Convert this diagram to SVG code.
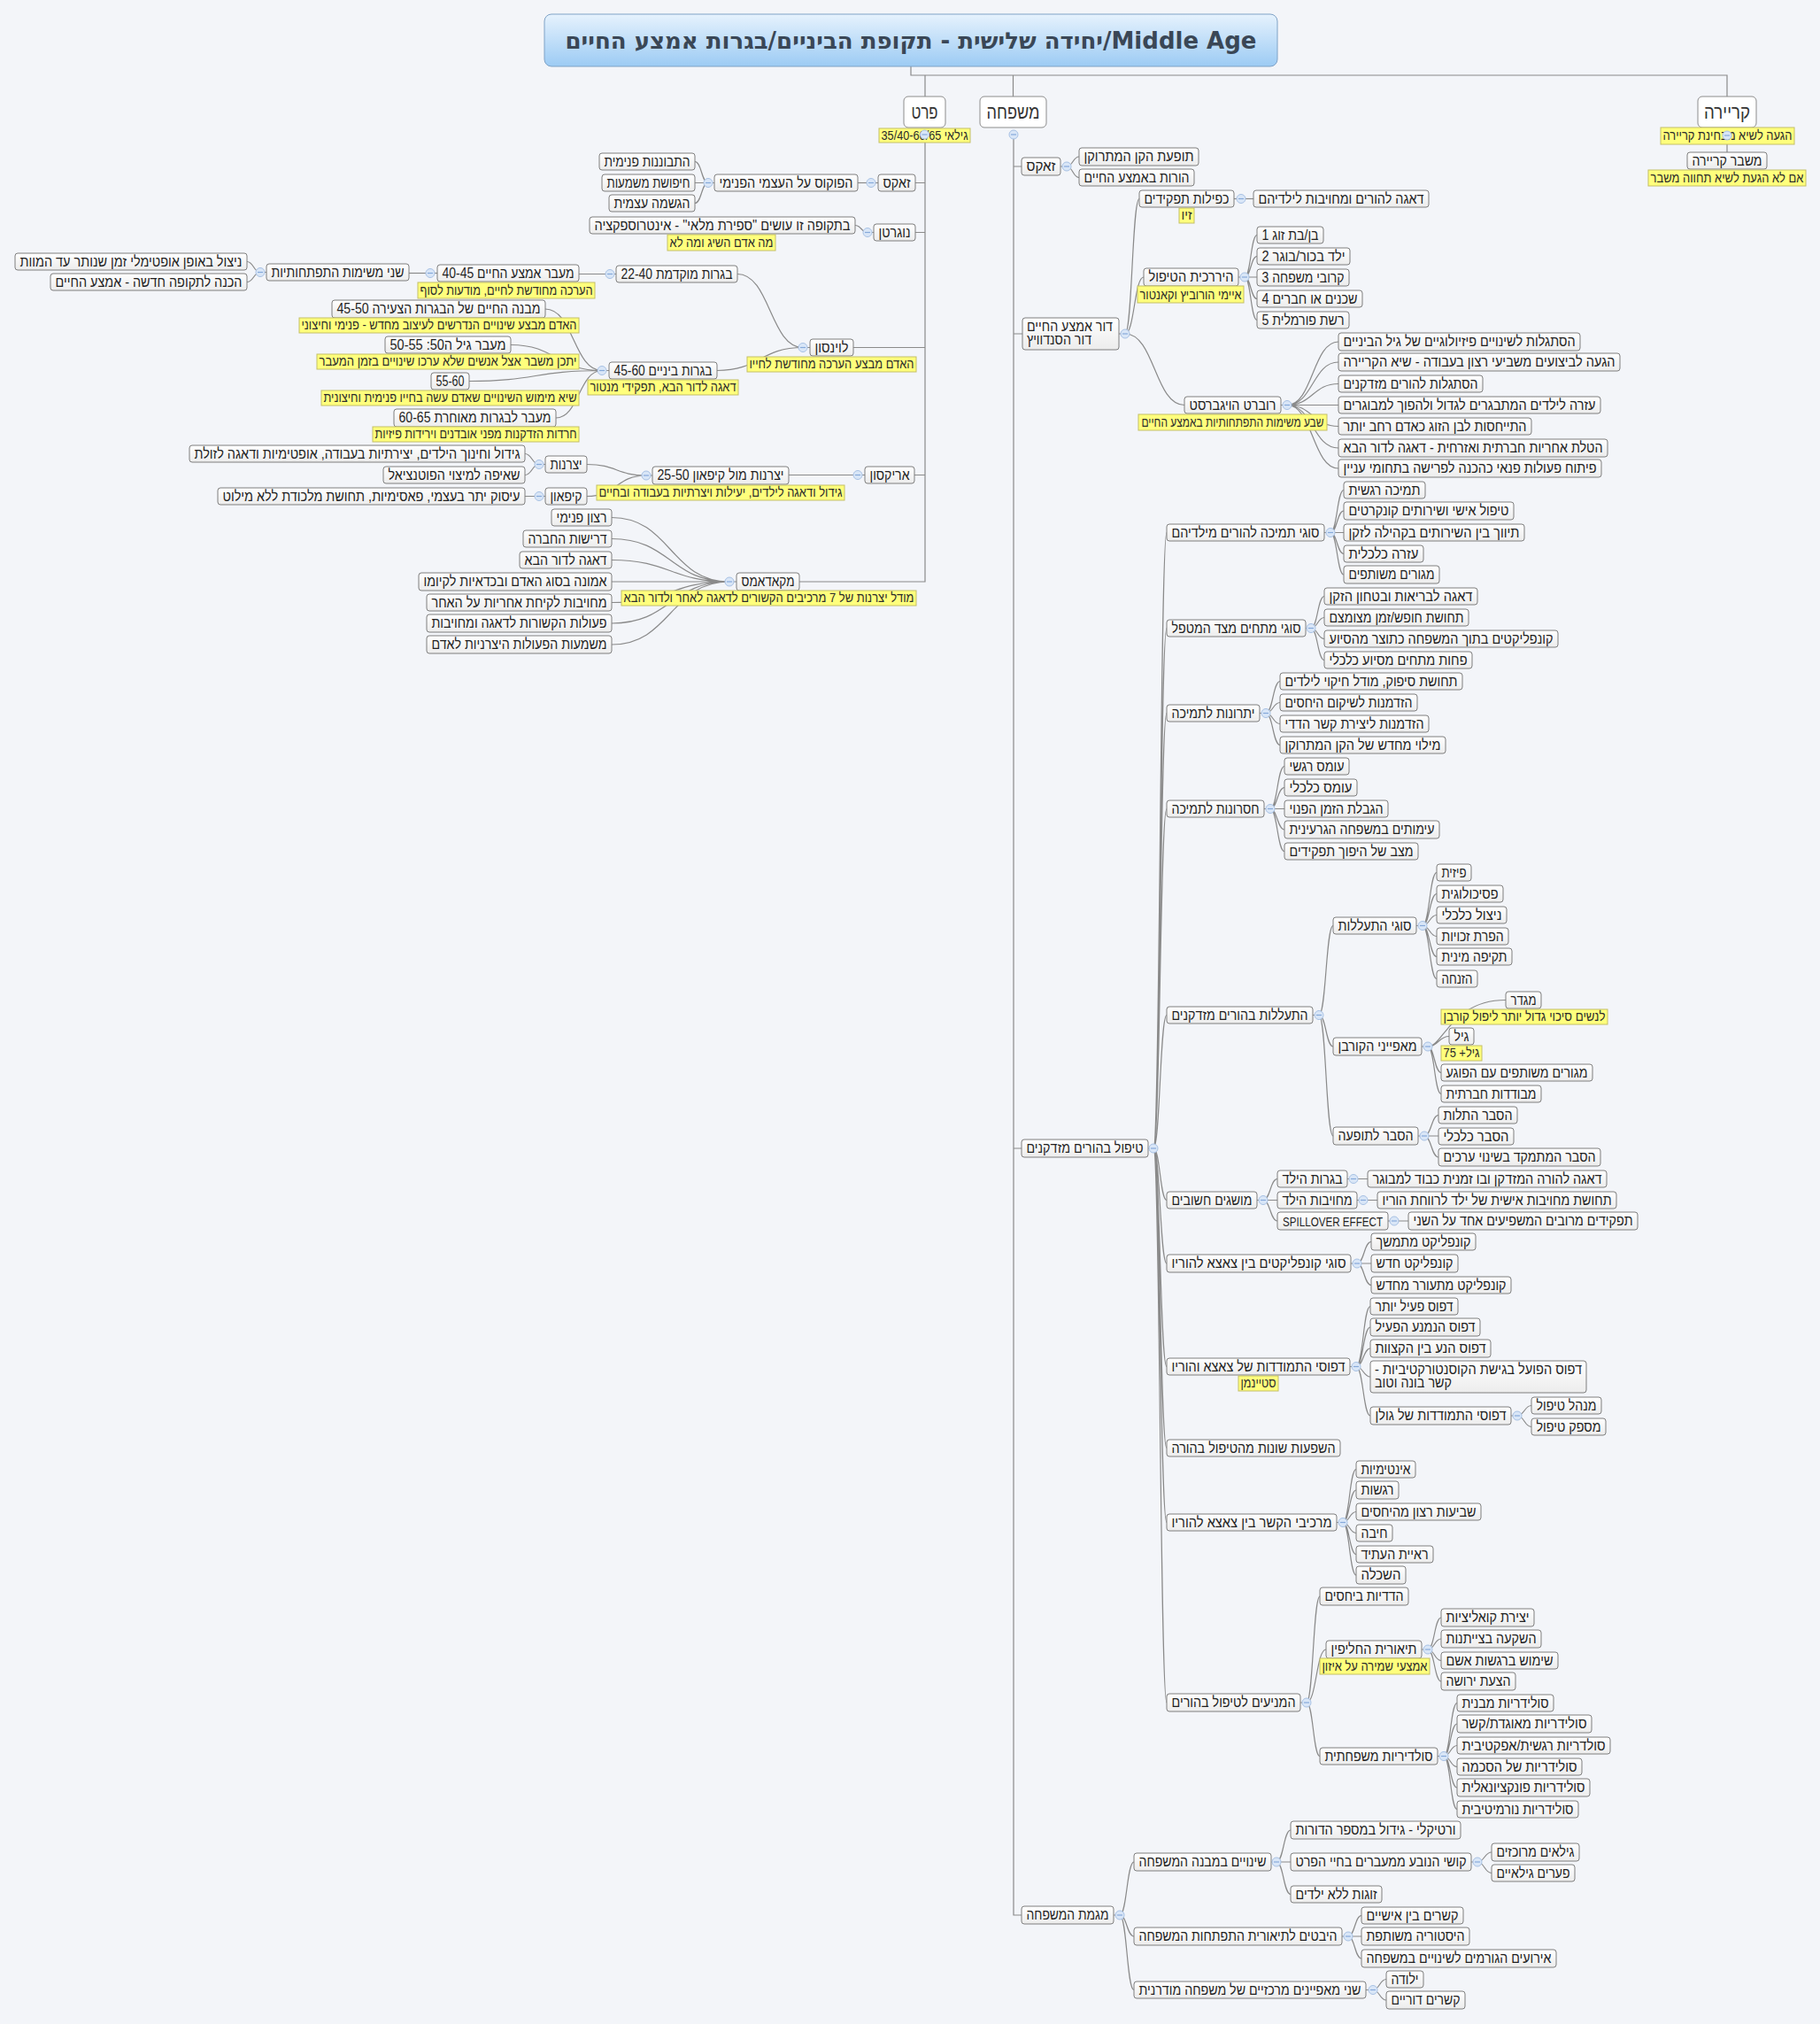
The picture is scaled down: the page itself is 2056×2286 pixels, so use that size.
<svg xmlns="http://www.w3.org/2000/svg" width="2056" height="2286" viewBox="0 0 2056 2286">
<defs>
<linearGradient id="gn" x1="0" y1="0" x2="0" y2="1"><stop offset="0" stop-color="#ffffff"/><stop offset="1" stop-color="#ececec"/></linearGradient>
<linearGradient id="gt" x1="0" y1="0" x2="0" y2="1"><stop offset="0" stop-color="#e6f2fd"/><stop offset="1" stop-color="#9ccbf4"/></linearGradient>
<g id="tg"><circle cx="0" cy="0" r="5" fill="#d9e6f7" stroke="#a7c1e4" stroke-width="1"/><path d="M-3 0H3" stroke="#86a9da" stroke-width="1.2"/></g>
<style>
.bg{fill:#f3f5f9}
.b{fill:url(#gn);stroke:#7e7e7e;stroke-width:1}
.l1{fill:#ffffff;stroke:#8c8c8c;stroke-width:1}
.yl{fill:#ffff7c;stroke:#c4bf66;stroke-width:1}
text{font-family:"Liberation Sans",Arial,sans-serif;text-anchor:middle;direction:rtl;unicode-bidi:embed}
.t{font-size:16px;fill:#1f1f1f}
.yt{font-size:15px;fill:#2b2b2b}
.lt{font-size:21px;fill:#333333}
.tt{font-family:"DejaVu Sans","Liberation Sans",sans-serif;font-weight:bold;font-size:26px;fill:#3a4756}
#connectors path{fill:none;stroke:#8a8a8a;stroke-width:1.2}
</style>
</defs>
<rect class="bg" x="0" y="0" width="2056" height="2286"/>

<g id="connectors">
<path d="M1029 75V85H1951V109M1045 85V109M1144.5 85V109"/>
<path d="M1951 163V172"/>
<path d="M1145 152V2163H1154M1145 188H1154M1145 377H1155M1145 1297H1154"/>
<path d="M1045 152V657H903M1045 206.5H1034M1045 262.5H1034M1045 392.5H964M1045 536.5H1033"/>
<path d="M1198 188H1205M1205 188C1212 188 1212 177 1219 177M1205 188C1212 188 1212 200.5 1219 200.5"/>
<path d="M1264 377H1271M1271 377C1279 377 1279 224.5 1287 224.5M1271 377C1281.5 377 1281.5 313 1292 313M1271 377C1304.5 377 1304.5 457.5 1338 457.5"/>
<path d="M1394 224.5H1416"/>
<path d="M1399 313H1406M1406 313C1413 313 1413 265.5 1420 265.5M1406 313C1413 313 1413 289.5 1420 289.5M1406 313H1420M1406 313C1413 313 1413 337.5 1420 337.5M1406 313C1413 313 1413 361.5 1420 361.5"/>
<path d="M1447 457.5H1454M1454 457.5C1483 457.5 1483 386 1512 386M1454 457.5C1483 457.5 1483 409 1512 409M1454 457.5C1483 457.5 1483 433.5 1512 433.5M1454 457.5H1512M1454 457.5C1483 457.5 1483 481.5 1512 481.5M1454 457.5C1483 457.5 1483 506 1512 506M1454 457.5C1483 457.5 1483 529 1512 529"/>
<path d="M1297 1297H1303M1303 1297C1310.5 1297 1310.5 601.5 1318 601.5M1303 1297C1310.5 1297 1310.5 709.5 1318 709.5M1303 1297C1310.5 1297 1310.5 805.5 1318 805.5M1303 1297C1310.5 1297 1310.5 913.5 1318 913.5M1303 1297C1310.5 1297 1310.5 1146.5 1318 1146.5M1303 1297C1310.5 1297 1310.5 1355.5 1318 1355.5M1303 1297C1310.5 1297 1310.5 1427 1318 1427M1303 1297C1310.5 1297 1310.5 1543.5 1318 1543.5M1303 1297C1310.5 1297 1310.5 1635.5 1318 1635.5M1303 1297C1310.5 1297 1310.5 1719.5 1318 1719.5M1303 1297C1310.5 1297 1310.5 1923 1318 1923"/>
<path d="M1496 601.5H1503M1503 601.5C1510.5 601.5 1510.5 553.5 1518 553.5M1503 601.5C1510.5 601.5 1510.5 577 1518 577M1503 601.5H1518M1503 601.5C1510.5 601.5 1510.5 625.5 1518 625.5M1503 601.5C1510.5 601.5 1510.5 649 1518 649"/>
<path d="M1475 709.5H1481M1481 709.5C1488.5 709.5 1488.5 673.5 1496 673.5M1481 709.5C1488.5 709.5 1488.5 697.5 1496 697.5M1481 709.5C1488.5 709.5 1488.5 721.5 1496 721.5M1481 709.5C1488.5 709.5 1488.5 745.5 1496 745.5"/>
<path d="M1423 805.5H1430M1430 805.5C1438 805.5 1438 769.5 1446 769.5M1430 805.5C1438 805.5 1438 793.5 1446 793.5M1430 805.5C1438 805.5 1438 817.5 1446 817.5M1430 805.5C1438 805.5 1438 841.5 1446 841.5"/>
<path d="M1428 913.5H1435M1435 913.5C1443 913.5 1443 865.5 1451 865.5M1435 913.5C1443 913.5 1443 889.5 1451 889.5M1435 913.5H1451M1435 913.5C1443 913.5 1443 937 1451 937M1435 913.5C1443 913.5 1443 961.5 1451 961.5"/>
<path d="M1483 1146.5H1490M1490 1146.5C1498 1146.5 1498 1045.5 1506 1045.5M1490 1146.5C1498 1146.5 1498 1182 1506 1182M1490 1146.5C1498 1146.5 1498 1283 1506 1283"/>
<path d="M1600 1045.5H1607M1607 1045.5C1615 1045.5 1615 985.5 1623 985.5M1607 1045.5C1615 1045.5 1615 1009.5 1623 1009.5M1607 1045.5C1615 1045.5 1615 1033.5 1623 1033.5M1607 1045.5C1615 1045.5 1615 1057.5 1623 1057.5M1607 1045.5C1615 1045.5 1615 1080.5 1623 1080.5M1607 1045.5C1615 1045.5 1615 1105.5 1623 1105.5"/>
<path d="M1606 1182H1613M1613 1182C1630 1182 1640 1129.5 1701 1129.5M1613 1182C1625 1182 1625 1170.5 1637 1170.5M1613 1182C1620.5 1182 1620.5 1211.5 1628 1211.5M1613 1182C1620.5 1182 1620.5 1235.5 1628 1235.5"/>
<path d="M1602 1283H1609M1609 1283C1617 1283 1617 1259.5 1625 1259.5M1609 1283H1625M1609 1283C1617 1283 1617 1307 1625 1307"/>
<path d="M1420 1355.5H1427M1427 1355.5C1435 1355.5 1435 1331.5 1443 1331.5M1427 1355.5H1443M1427 1355.5C1435 1355.5 1435 1379 1443 1379M1522 1331.5H1545M1533 1355.5H1556M1568 1379H1591"/>
<path d="M1526 1427H1533M1533 1427C1541 1427 1541 1402.5 1549 1402.5M1533 1427H1549M1533 1427C1541 1427 1541 1451.5 1549 1451.5"/>
<path d="M1525 1543.5H1532M1532 1543.5C1540 1543.5 1540 1475.5 1548 1475.5M1532 1543.5C1540 1543.5 1540 1499 1548 1499M1532 1543.5C1540 1543.5 1540 1523 1548 1523M1532 1543.5C1540 1543.5 1540 1555 1548 1555M1532 1543.5C1540 1543.5 1540 1599 1548 1599"/>
<path d="M1707 1599H1714M1714 1599C1722 1599 1722 1587.5 1730 1587.5M1714 1599C1722 1599 1722 1611.5 1730 1611.5"/>
<path d="M1510 1719.5H1517M1517 1719.5C1524.5 1719.5 1524.5 1659.5 1532 1659.5M1517 1719.5C1524.5 1719.5 1524.5 1683 1532 1683M1517 1719.5C1524.5 1719.5 1524.5 1707.5 1532 1707.5M1517 1719.5C1524.5 1719.5 1524.5 1731.5 1532 1731.5M1517 1719.5C1524.5 1719.5 1524.5 1755.5 1532 1755.5M1517 1719.5C1524.5 1719.5 1524.5 1779 1532 1779"/>
<path d="M1469 1923H1476M1476 1923C1483.5 1923 1483.5 1803 1491 1803M1476 1923C1487 1923 1487 1863 1498 1863M1476 1923C1483.5 1923 1483.5 1983.5 1491 1983.5"/>
<path d="M1606 1863H1613M1613 1863C1620.5 1863 1620.5 1827 1628 1827M1613 1863C1620.5 1863 1620.5 1851 1628 1851M1613 1863C1620.5 1863 1620.5 1875.5 1628 1875.5M1613 1863C1620.5 1863 1620.5 1899 1628 1899"/>
<path d="M1624 1983.5H1631M1631 1983.5C1638.5 1983.5 1638.5 1923.5 1646 1923.5M1631 1983.5C1638.5 1983.5 1638.5 1947 1646 1947M1631 1983.5C1638.5 1983.5 1638.5 1971.5 1646 1971.5M1631 1983.5C1638.5 1983.5 1638.5 1995.5 1646 1995.5M1631 1983.5C1638.5 1983.5 1638.5 2019 1646 2019M1631 1983.5C1638.5 1983.5 1638.5 2043.5 1646 2043.5"/>
<path d="M1258 2163H1265M1265 2163C1273 2163 1273 2103 1281 2103M1265 2163C1273 2163 1273 2187 1281 2187M1265 2163C1273 2163 1273 2247.5 1281 2247.5"/>
<path d="M1436 2103H1442M1442 2103C1450 2103 1450 2067 1458 2067M1442 2103H1458M1442 2103C1450 2103 1450 2139.5 1458 2139.5"/>
<path d="M1662 2103H1669M1669 2103C1677 2103 1677 2092 1685 2092M1669 2103C1677 2103 1677 2115.5 1685 2115.5"/>
<path d="M1516 2187H1523M1523 2187C1530.5 2187 1530.5 2163.5 1538 2163.5M1523 2187H1538M1523 2187C1530.5 2187 1530.5 2212 1538 2212"/>
<path d="M1543 2247.5H1551M1551 2247.5C1558.5 2247.5 1558.5 2235.5 1566 2235.5M1551 2247.5C1558.5 2247.5 1558.5 2259 1566 2259"/>
<path d="M992 206.5H969"/>
<path d="M807 206.5H800M800 206.5C792.5 206.5 792.5 182.5 785 182.5M800 206.5H785M800 206.5C792.5 206.5 792.5 229.5 785 229.5"/>
<path d="M987 262.5H980M980 262.5C973 262.5 973 254.5 966 254.5"/>
<path d="M915 392.5H907M907 392.5C870 392.5 870 309.5 833 309.5M907 392.5C858.5 392.5 858.5 418.5 810 418.5"/>
<path d="M696 309.5H654"/>
<path d="M494 308.5H462"/>
<path d="M301 307.5H294M294 307.5C286.5 307.5 286.5 295.5 279 295.5M294 307.5C286.5 307.5 286.5 318.5 279 318.5"/>
<path d="M688 418.5H680M680 418.5C648 418.5 648 349 616 349M680 418.5C628.5 418.5 628.5 389.5 577 389.5M680 418.5C605 418.5 605 430.5 530 430.5M680 418.5C654 418.5 654 472 628 472"/>
<path d="M977 536.5H891"/>
<path d="M737 537H730M730 537C696.5 537 696.5 524.5 663 524.5M730 537C696.5 537 696.5 560.5 663 560.5"/>
<path d="M616 524.5H609M609 524.5C601 524.5 601 512.5 593 512.5M609 524.5C601 524.5 601 536.5 593 536.5M616 560.5H593"/>
<path d="M832 657H824M824 657C757.5 657 757.5 584.5 691 584.5M824 657C757.5 657 757.5 608.5 691 608.5M824 657C757.5 657 757.5 632.5 691 632.5M824 657H691M824 657C757.5 657 757.5 680.5 691 680.5M824 657C757.5 657 757.5 704 691 704M824 657C757.5 657 757.5 728 691 728"/>
</g>

<g id="title"><rect x="615" y="16" width="828" height="59" rx="8" fill="url(#gt)" stroke="#7fa2c6" stroke-width="1"/><text class="tt" x="1029" y="55" textLength="781" lengthAdjust="spacingAndGlyphs">Middle Age/יחידה שלישית - תקופת הביניים/בגרות אמצע החיים</text></g>

<g id="prat"><rect class="l1" x="1021" y="109" width="47" height="35" rx="5"/><text class="lt" x="1044.5" y="134" textLength="30" lengthAdjust="spacingAndGlyphs">פרט</text><rect class="yl" x="993" y="145" width="103" height="16"/><text class="yt" x="1044.5" y="158" textLength="98" lengthAdjust="spacingAndGlyphs">גילאי 35/40-60/65</text></g>
<g id="mishpacha"><rect class="l1" x="1107" y="109" width="75" height="35" rx="5"/><text class="lt" x="1144.5" y="134" textLength="60" lengthAdjust="spacingAndGlyphs">משפחה</text></g>
<g id="kariera"><rect class="l1" x="1918" y="109" width="66" height="35" rx="5"/><text class="lt" x="1951" y="134" textLength="52" lengthAdjust="spacingAndGlyphs">קריירה</text><rect class="yl" x="1876" y="144" width="151" height="19"/><text class="yt" x="1951.5" y="158" textLength="146" lengthAdjust="spacingAndGlyphs">הגעה לשיא מבחינת קריירה</text></g>
<g id="k-mashber"><rect class="b" x="1906" y="172" width="90" height="19" rx="3"/><text class="t" x="1951" y="186.5" textLength="79" lengthAdjust="spacingAndGlyphs">משבר קריירה</text><rect class="yl" x="1862" y="192" width="178" height="18"/><text class="yt" x="1951" y="205.5" textLength="173" lengthAdjust="spacingAndGlyphs">אם לא הגעת לשיא תחווה משבר</text></g>

<g id="f-zaks"><rect class="b" x="1154" y="178" width="44" height="20" rx="3"/><text class="t" x="1176" y="193" textLength="33" lengthAdjust="spacingAndGlyphs">זאקס</text></g>
<g id="f-zaks-1"><rect class="b" x="1219" y="167" width="135" height="20" rx="3"/><text class="t" x="1286.5" y="182" textLength="124" lengthAdjust="spacingAndGlyphs">תופעת הקן המתרוקן</text></g>
<g id="f-zaks-2"><rect class="b" x="1219" y="191" width="130" height="19" rx="3"/><text class="t" x="1284" y="205.5" textLength="119" lengthAdjust="spacingAndGlyphs">הורות באמצע החיים</text></g>
<g id="f-dor"><rect class="b" x="1155" y="359" width="109" height="36" rx="3"/><text class="t" x="1208.5" y="374" textLength="97" lengthAdjust="spacingAndGlyphs">דור אמצע החיים</text><text class="t" x="1196.5" y="389" textLength="73" lengthAdjust="spacingAndGlyphs">דור הסנדוויץ</text></g>
<g id="f-kfilut"><rect class="b" x="1287" y="215" width="107" height="19" rx="3"/><text class="t" x="1340.5" y="229.5" textLength="96" lengthAdjust="spacingAndGlyphs">כפילות תפקידים</text><rect class="yl" x="1332" y="235" width="17" height="17"/><text class="yt" x="1340.5" y="248" textLength="12" lengthAdjust="spacingAndGlyphs">זיו</text></g>
<g id="f-kfilut-1"><rect class="b" x="1416" y="215" width="198" height="19" rx="3"/><text class="t" x="1515" y="229.5" textLength="187" lengthAdjust="spacingAndGlyphs">דאגה להורים ומחויבות לילדיהם</text></g>
<g id="f-hier"><rect class="b" x="1292" y="303" width="107" height="20" rx="3"/><text class="t" x="1345.5" y="318" textLength="96" lengthAdjust="spacingAndGlyphs">היררכית הטיפול</text><rect class="yl" x="1285" y="323" width="120" height="19"/><text class="yt" x="1345" y="337.5" textLength="115" lengthAdjust="spacingAndGlyphs">איימי הורוביץ וקאנטור</text></g>
<g id="f-hier-1"><rect class="b" x="1420" y="256" width="75" height="19" rx="3"/><text class="t" x="1457.5" y="270.5" textLength="64" lengthAdjust="spacingAndGlyphs">בן/בת זוג 1</text></g>
<g id="f-hier-2"><rect class="b" x="1420" y="280" width="105" height="19" rx="3"/><text class="t" x="1472.5" y="294.5" textLength="94" lengthAdjust="spacingAndGlyphs">ילד בכור/בוגר 2</text></g>
<g id="f-hier-3"><rect class="b" x="1420" y="304" width="104" height="19" rx="3"/><text class="t" x="1472" y="318.5" textLength="93" lengthAdjust="spacingAndGlyphs">קרובי משפחה 3</text></g>
<g id="f-hier-4"><rect class="b" x="1420" y="328" width="119" height="19" rx="3"/><text class="t" x="1479.5" y="342.5" textLength="108" lengthAdjust="spacingAndGlyphs">שכנים או חברים 4</text></g>
<g id="f-hier-5"><rect class="b" x="1420" y="352" width="104" height="19" rx="3"/><text class="t" x="1472" y="366.5" textLength="93" lengthAdjust="spacingAndGlyphs">רשת פורמלית 5</text></g>
<g id="f-robert"><rect class="b" x="1338" y="448" width="109" height="19" rx="3"/><text class="t" x="1392.5" y="462.5" textLength="98" lengthAdjust="spacingAndGlyphs">רוברט הויגברסט</text><rect class="yl" x="1286" y="468" width="213" height="18"/><text class="yt" x="1392.5" y="481.5" textLength="206" lengthAdjust="spacingAndGlyphs">שבע משימות התפתחותיות באמצע החיים</text></g>
<g id="f-robert-1"><rect class="b" x="1512" y="376" width="273" height="20" rx="3"/><text class="t" x="1648.5" y="391" textLength="262" lengthAdjust="spacingAndGlyphs">הסתגלות לשינויים פיזיולוגיים של גיל הביניים</text></g>
<g id="f-robert-2"><rect class="b" x="1512" y="399" width="318" height="20" rx="3"/><text class="t" x="1671" y="414" textLength="307" lengthAdjust="spacingAndGlyphs">הגעה לביצועים משביעי רצון בעבודה - שיא הקריירה</text></g>
<g id="f-robert-3"><rect class="b" x="1512" y="424" width="163" height="19" rx="3"/><text class="t" x="1593.5" y="438.5" textLength="152" lengthAdjust="spacingAndGlyphs">הסתגלות להורים מזדקנים</text></g>
<g id="f-robert-4"><rect class="b" x="1512" y="448" width="296" height="19" rx="3"/><text class="t" x="1660" y="462.5" textLength="285" lengthAdjust="spacingAndGlyphs">עזרה לילדים המתבגרים לגדול ולהפוך למבוגרים</text></g>
<g id="f-robert-5"><rect class="b" x="1512" y="472" width="218" height="19" rx="3"/><text class="t" x="1621" y="486.5" textLength="207" lengthAdjust="spacingAndGlyphs">התייחסות לבן הזוג כאדם רחב יותר</text></g>
<g id="f-robert-6"><rect class="b" x="1512" y="496" width="304" height="20" rx="3"/><text class="t" x="1664" y="511" textLength="293" lengthAdjust="spacingAndGlyphs">הטלת אחריות חברתית ואזרחית - דאגה לדור הבא</text></g>
<g id="f-robert-7"><rect class="b" x="1512" y="519" width="297" height="20" rx="3"/><text class="t" x="1660.5" y="534" textLength="286" lengthAdjust="spacingAndGlyphs">פיתוח פעולות פנאי כהכנה לפרישה בתחומי עניין</text></g>

<g id="f-tipul"><rect class="b" x="1154" y="1287" width="143" height="20" rx="3"/><text class="t" x="1225.5" y="1302" textLength="132" lengthAdjust="spacingAndGlyphs">טיפול בהורים מזדקנים</text></g>
<g id="t-a"><rect class="b" x="1318" y="592" width="178" height="19" rx="3"/><text class="t" x="1407" y="606.5" textLength="167" lengthAdjust="spacingAndGlyphs">סוגי תמיכה להורים מילדיהם</text></g>
<g id="t-a1"><rect class="b" x="1518" y="544" width="92" height="19" rx="3"/><text class="t" x="1564" y="558.5" textLength="81" lengthAdjust="spacingAndGlyphs">תמיכה רגשית</text></g>
<g id="t-a2"><rect class="b" x="1518" y="567" width="192" height="20" rx="3"/><text class="t" x="1614" y="582" textLength="181" lengthAdjust="spacingAndGlyphs">טיפול אישי ושירותים קונקרטים</text></g>
<g id="t-a3"><rect class="b" x="1518" y="592" width="204" height="19" rx="3"/><text class="t" x="1620" y="606.5" textLength="193" lengthAdjust="spacingAndGlyphs">תיווך בין השירותים בקהילה לזקן</text></g>
<g id="t-a4"><rect class="b" x="1518" y="616" width="90" height="19" rx="3"/><text class="t" x="1563" y="630.5" textLength="79" lengthAdjust="spacingAndGlyphs">עזרה כלכלית</text></g>
<g id="t-a5"><rect class="b" x="1518" y="639" width="108" height="20" rx="3"/><text class="t" x="1572" y="654" textLength="97" lengthAdjust="spacingAndGlyphs">מגורים משותפים</text></g>
<g id="t-b"><rect class="b" x="1318" y="700" width="157" height="19" rx="3"/><text class="t" x="1396.5" y="714.5" textLength="146" lengthAdjust="spacingAndGlyphs">סוגי מתחים מצד המטפל</text></g>
<g id="t-b1"><rect class="b" x="1496" y="664" width="173" height="19" rx="3"/><text class="t" x="1582.5" y="678.5" textLength="162" lengthAdjust="spacingAndGlyphs">דאגה לבריאות ובטחון הזקן</text></g>
<g id="t-b2"><rect class="b" x="1496" y="688" width="163" height="19" rx="3"/><text class="t" x="1577.5" y="702.5" textLength="152" lengthAdjust="spacingAndGlyphs">תחושת חופש/זמן מצומצם</text></g>
<g id="t-b3"><rect class="b" x="1496" y="712" width="264" height="19" rx="3"/><text class="t" x="1628" y="726.5" textLength="253" lengthAdjust="spacingAndGlyphs">קונפליקטים בתוך המשפחה כתוצר מהסיוע</text></g>
<g id="t-b4"><rect class="b" x="1496" y="736" width="167" height="19" rx="3"/><text class="t" x="1579.5" y="750.5" textLength="156" lengthAdjust="spacingAndGlyphs">פחות מתחים מסיוע כלכלי</text></g>
<g id="t-c"><rect class="b" x="1318" y="796" width="105" height="19" rx="3"/><text class="t" x="1370.5" y="810.5" textLength="94" lengthAdjust="spacingAndGlyphs">יתרונות לתמיכה</text></g>
<g id="t-c1"><rect class="b" x="1446" y="760" width="206" height="19" rx="3"/><text class="t" x="1549" y="774.5" textLength="195" lengthAdjust="spacingAndGlyphs">תחושת סיפוק, מודל חיקוי לילדים</text></g>
<g id="t-c2"><rect class="b" x="1446" y="784" width="155" height="19" rx="3"/><text class="t" x="1523.5" y="798.5" textLength="144" lengthAdjust="spacingAndGlyphs">הזדמנות לשיקום היחסים</text></g>
<g id="t-c3"><rect class="b" x="1446" y="808" width="168" height="19" rx="3"/><text class="t" x="1530" y="822.5" textLength="157" lengthAdjust="spacingAndGlyphs">הזדמנות ליצירת קשר הדדי</text></g>
<g id="t-c4"><rect class="b" x="1446" y="832" width="187" height="19" rx="3"/><text class="t" x="1539.5" y="846.5" textLength="176" lengthAdjust="spacingAndGlyphs">מילוי מחדש של הקן המתרוקן</text></g>
<g id="t-d"><rect class="b" x="1318" y="904" width="110" height="19" rx="3"/><text class="t" x="1373" y="918.5" textLength="99" lengthAdjust="spacingAndGlyphs">חסרונות לתמיכה</text></g>
<g id="t-d1"><rect class="b" x="1451" y="856" width="73" height="19" rx="3"/><text class="t" x="1487.5" y="870.5" textLength="62" lengthAdjust="spacingAndGlyphs">עומס רגשי</text></g>
<g id="t-d2"><rect class="b" x="1451" y="880" width="82" height="19" rx="3"/><text class="t" x="1492" y="894.5" textLength="71" lengthAdjust="spacingAndGlyphs">עומס כלכלי</text></g>
<g id="t-d3"><rect class="b" x="1451" y="904" width="117" height="19" rx="3"/><text class="t" x="1509.5" y="918.5" textLength="106" lengthAdjust="spacingAndGlyphs">הגבלת הזמן הפנוי</text></g>
<g id="t-d4"><rect class="b" x="1451" y="927" width="175" height="20" rx="3"/><text class="t" x="1538.5" y="942" textLength="164" lengthAdjust="spacingAndGlyphs">עימותים במשפחה הגרעינית</text></g>
<g id="t-d5"><rect class="b" x="1451" y="952" width="151" height="19" rx="3"/><text class="t" x="1526.5" y="966.5" textLength="140" lengthAdjust="spacingAndGlyphs">מצב של היפוך תפקידים</text></g>
<g id="t-e"><rect class="b" x="1318" y="1137" width="165" height="19" rx="3"/><text class="t" x="1400.5" y="1151.5" textLength="154" lengthAdjust="spacingAndGlyphs">התעללות בהורים מזדקנים</text></g>
<g id="t-e1"><rect class="b" x="1506" y="1036" width="94" height="19" rx="3"/><text class="t" x="1553" y="1050.5" textLength="83" lengthAdjust="spacingAndGlyphs">סוגי התעללות</text></g>
<g id="t-e1a"><rect class="b" x="1623" y="976" width="39" height="19" rx="3"/><text class="t" x="1642.5" y="990.5" textLength="28" lengthAdjust="spacingAndGlyphs">פיזית</text></g>
<g id="t-e1b"><rect class="b" x="1623" y="1000" width="75" height="19" rx="3"/><text class="t" x="1660.5" y="1014.5" textLength="64" lengthAdjust="spacingAndGlyphs">פסיכולוגית</text></g>
<g id="t-e1c"><rect class="b" x="1623" y="1024" width="79" height="19" rx="3"/><text class="t" x="1662.5" y="1038.5" textLength="68" lengthAdjust="spacingAndGlyphs">ניצול כלכלי</text></g>
<g id="t-e1d"><rect class="b" x="1623" y="1048" width="81" height="19" rx="3"/><text class="t" x="1663.5" y="1062.5" textLength="70" lengthAdjust="spacingAndGlyphs">הפרת זכויות</text></g>
<g id="t-e1e"><rect class="b" x="1623" y="1071" width="85" height="19" rx="3"/><text class="t" x="1665.5" y="1085.5" textLength="74" lengthAdjust="spacingAndGlyphs">תקיפה מינית</text></g>
<g id="t-e1f"><rect class="b" x="1623" y="1096" width="46" height="19" rx="3"/><text class="t" x="1646" y="1110.5" textLength="35" lengthAdjust="spacingAndGlyphs">הזנחה</text></g>
<g id="t-e2"><rect class="b" x="1506" y="1172" width="100" height="20" rx="3"/><text class="t" x="1556" y="1187" textLength="89" lengthAdjust="spacingAndGlyphs">מאפייני הקורבן</text></g>
<g id="t-e2a"><rect class="b" x="1701" y="1120" width="40" height="19" rx="3"/><text class="t" x="1721" y="1134.5" textLength="29" lengthAdjust="spacingAndGlyphs">מגדר</text><rect class="yl" x="1628" y="1140" width="188" height="17"/><text class="yt" x="1722" y="1153" textLength="183" lengthAdjust="spacingAndGlyphs">לנשים סיכוי גדול יותר ליפול קורבן</text></g>
<g id="t-e2b"><rect class="b" x="1637" y="1161" width="28" height="19" rx="3"/><text class="t" x="1651" y="1175.5" textLength="17" lengthAdjust="spacingAndGlyphs">גיל</text><rect class="yl" x="1628" y="1181" width="46" height="17"/><text class="yt" x="1651" y="1194" textLength="41" lengthAdjust="spacingAndGlyphs">גיל+ 75</text></g>
<g id="t-e2c"><rect class="b" x="1628" y="1202" width="171" height="19" rx="3"/><text class="t" x="1713.5" y="1216.5" textLength="160" lengthAdjust="spacingAndGlyphs">מגורים משותפים עם הפוגע</text></g>
<g id="t-e2d"><rect class="b" x="1628" y="1226" width="113" height="19" rx="3"/><text class="t" x="1684.5" y="1240.5" textLength="102" lengthAdjust="spacingAndGlyphs">מבודדות חברתית</text></g>
<g id="t-e3"><rect class="b" x="1506" y="1273" width="96" height="20" rx="3"/><text class="t" x="1554" y="1288" textLength="85" lengthAdjust="spacingAndGlyphs">הסבר לתופעה</text></g>
<g id="t-e3a"><rect class="b" x="1625" y="1250" width="89" height="19" rx="3"/><text class="t" x="1669.5" y="1264.5" textLength="78" lengthAdjust="spacingAndGlyphs">הסבר התלות</text></g>
<g id="t-e3b"><rect class="b" x="1625" y="1274" width="85" height="19" rx="3"/><text class="t" x="1667.5" y="1288.5" textLength="74" lengthAdjust="spacingAndGlyphs">הסבר כלכלי</text></g>
<g id="t-e3c"><rect class="b" x="1625" y="1297" width="183" height="20" rx="3"/><text class="t" x="1716.5" y="1312" textLength="172" lengthAdjust="spacingAndGlyphs">הסבר המתמקד בשינוי ערכים</text></g>
<g id="t-f"><rect class="b" x="1318" y="1346" width="102" height="19" rx="3"/><text class="t" x="1369" y="1360.5" textLength="91" lengthAdjust="spacingAndGlyphs">מושגים חשובים</text></g>
<g id="t-f1"><rect class="b" x="1443" y="1322" width="79" height="19" rx="3"/><text class="t" x="1482.5" y="1336.5" textLength="68" lengthAdjust="spacingAndGlyphs">בגרות הילד</text></g>
<g id="t-f1a"><rect class="b" x="1545" y="1322" width="270" height="19" rx="3"/><text class="t" x="1680" y="1336.5" textLength="259" lengthAdjust="spacingAndGlyphs">דאגה להורה המזדקן ובו זמנית כבוד למבוגר</text></g>
<g id="t-f2"><rect class="b" x="1443" y="1346" width="90" height="19" rx="3"/><text class="t" x="1488" y="1360.5" textLength="79" lengthAdjust="spacingAndGlyphs">מחויבות הילד</text></g>
<g id="t-f2a"><rect class="b" x="1556" y="1346" width="270" height="19" rx="3"/><text class="t" x="1691" y="1360.5" textLength="259" lengthAdjust="spacingAndGlyphs">תחושת מחויבות אישית של ילד לרווחת הוריו</text></g>
<g id="t-f3"><rect class="b" x="1443" y="1369" width="125" height="20" rx="3"/><text class="t" x="1505.5" y="1384.5" style="font-size:15px" textLength="113" lengthAdjust="spacingAndGlyphs">SPILLOVER EFFECT</text></g>
<g id="t-f3a"><rect class="b" x="1591" y="1369" width="259" height="20" rx="3"/><text class="t" x="1720.5" y="1384" textLength="248" lengthAdjust="spacingAndGlyphs">תפקידים מרובים המשפיעים אחד על השני</text></g>
<g id="t-g"><rect class="b" x="1318" y="1417" width="208" height="20" rx="3"/><text class="t" x="1422" y="1432" textLength="197" lengthAdjust="spacingAndGlyphs">סוגי קונפליקטים בין צאצא להוריו</text></g>
<g id="t-g1"><rect class="b" x="1549" y="1393" width="118" height="19" rx="3"/><text class="t" x="1608" y="1407.5" textLength="107" lengthAdjust="spacingAndGlyphs">קונפליקט מתמשך</text></g>
<g id="t-g2"><rect class="b" x="1549" y="1417" width="98" height="20" rx="3"/><text class="t" x="1598" y="1432" textLength="87" lengthAdjust="spacingAndGlyphs">קונפליקט חדש</text></g>
<g id="t-g3"><rect class="b" x="1549" y="1442" width="158" height="19" rx="3"/><text class="t" x="1628" y="1456.5" textLength="147" lengthAdjust="spacingAndGlyphs">קונפליקט מתעורר מחדש</text></g>
<g id="t-h"><rect class="b" x="1318" y="1534" width="207" height="19" rx="3"/><text class="t" x="1421.5" y="1548.5" textLength="196" lengthAdjust="spacingAndGlyphs">דפוסי התמודדות של צאצא והוריו</text><rect class="yl" x="1399" y="1554" width="45" height="17"/><text class="yt" x="1421.5" y="1567" textLength="40" lengthAdjust="spacingAndGlyphs">סטיינמן</text></g>
<g id="t-h1"><rect class="b" x="1548" y="1466" width="99" height="19" rx="3"/><text class="t" x="1597.5" y="1480.5" textLength="88" lengthAdjust="spacingAndGlyphs">דפוס פעיל יותר</text></g>
<g id="t-h2"><rect class="b" x="1548" y="1489" width="124" height="20" rx="3"/><text class="t" x="1610" y="1504" textLength="113" lengthAdjust="spacingAndGlyphs">דפוס הנמנע הפעיל</text></g>
<g id="t-h3"><rect class="b" x="1548" y="1513" width="136" height="20" rx="3"/><text class="t" x="1616" y="1528" textLength="125" lengthAdjust="spacingAndGlyphs">דפוס הנע בין הקצוות</text></g>
<g id="t-h4"><rect class="b" x="1548" y="1537" width="244" height="36" rx="3"/><text class="t" x="1670" y="1552" textLength="234" lengthAdjust="spacingAndGlyphs">דפוס הפועל בגישת הקוסנטורקטיביות -</text><text class="t" x="1596.5" y="1567" textLength="87" lengthAdjust="spacingAndGlyphs">קשר בונה וטוב</text></g>
<g id="t-h5"><rect class="b" x="1548" y="1589" width="159" height="20" rx="3"/><text class="t" x="1627.5" y="1604" textLength="148" lengthAdjust="spacingAndGlyphs">דפוסי התמודדות של גולן</text></g>
<g id="t-h5a"><rect class="b" x="1730" y="1578" width="79" height="19" rx="3"/><text class="t" x="1769.5" y="1592.5" textLength="68" lengthAdjust="spacingAndGlyphs">מנהל טיפול</text></g>
<g id="t-h5b"><rect class="b" x="1730" y="1602" width="84" height="19" rx="3"/><text class="t" x="1772" y="1616.5" textLength="73" lengthAdjust="spacingAndGlyphs">מספק טיפול</text></g>
<g id="t-i"><rect class="b" x="1318" y="1626" width="196" height="19" rx="3"/><text class="t" x="1416" y="1640.5" textLength="185" lengthAdjust="spacingAndGlyphs">השפעות שונות מהטיפול בהורה</text></g>
<g id="t-j"><rect class="b" x="1318" y="1710" width="192" height="19" rx="3"/><text class="t" x="1414" y="1724.5" textLength="181" lengthAdjust="spacingAndGlyphs">מרכיבי הקשר בין צאצא להוריו</text></g>
<g id="t-j1"><rect class="b" x="1532" y="1650" width="67" height="19" rx="3"/><text class="t" x="1565.5" y="1664.5" textLength="56" lengthAdjust="spacingAndGlyphs">אינטימיות</text></g>
<g id="t-j2"><rect class="b" x="1532" y="1673" width="48" height="20" rx="3"/><text class="t" x="1556" y="1688" textLength="37" lengthAdjust="spacingAndGlyphs">רגשות</text></g>
<g id="t-j3"><rect class="b" x="1532" y="1698" width="141" height="19" rx="3"/><text class="t" x="1602.5" y="1712.5" textLength="130" lengthAdjust="spacingAndGlyphs">שביעות רצון מהיחסים</text></g>
<g id="t-j4"><rect class="b" x="1532" y="1722" width="41" height="19" rx="3"/><text class="t" x="1552.5" y="1736.5" textLength="30" lengthAdjust="spacingAndGlyphs">חיבה</text></g>
<g id="t-j5"><rect class="b" x="1532" y="1746" width="87" height="19" rx="3"/><text class="t" x="1575.5" y="1760.5" textLength="76" lengthAdjust="spacingAndGlyphs">ראיית העתיד</text></g>
<g id="t-j6"><rect class="b" x="1532" y="1769" width="56" height="20" rx="3"/><text class="t" x="1560" y="1784" textLength="45" lengthAdjust="spacingAndGlyphs">השכלה</text></g>
<g id="t-k"><rect class="b" x="1318" y="1913" width="151" height="20" rx="3"/><text class="t" x="1393.5" y="1928" textLength="140" lengthAdjust="spacingAndGlyphs">המניעים לטיפול בהורים</text></g>
<g id="t-k1"><rect class="b" x="1491" y="1793" width="100" height="20" rx="3"/><text class="t" x="1541" y="1808" textLength="89" lengthAdjust="spacingAndGlyphs">הדדיות ביחסים</text></g>
<g id="t-k2"><rect class="b" x="1498" y="1853" width="108" height="20" rx="3"/><text class="t" x="1552" y="1868" textLength="97" lengthAdjust="spacingAndGlyphs">תיאורית החליפין</text><rect class="yl" x="1491" y="1873" width="124" height="18"/><text class="yt" x="1553" y="1886.5" textLength="119" lengthAdjust="spacingAndGlyphs">אמצעי שמירה על איזון</text></g>
<g id="t-k2a"><rect class="b" x="1628" y="1817" width="105" height="20" rx="3"/><text class="t" x="1680.5" y="1832" textLength="94" lengthAdjust="spacingAndGlyphs">יצירת קואליציות</text></g>
<g id="t-k2b"><rect class="b" x="1628" y="1841" width="113" height="20" rx="3"/><text class="t" x="1684.5" y="1856" textLength="102" lengthAdjust="spacingAndGlyphs">השקעה בצייתנות</text></g>
<g id="t-k2c"><rect class="b" x="1628" y="1866" width="132" height="19" rx="3"/><text class="t" x="1694" y="1880.5" textLength="121" lengthAdjust="spacingAndGlyphs">שימוש ברגשות אשם</text></g>
<g id="t-k2d"><rect class="b" x="1628" y="1889" width="84" height="20" rx="3"/><text class="t" x="1670" y="1904" textLength="73" lengthAdjust="spacingAndGlyphs">הצעת ירושה</text></g>
<g id="t-k3"><rect class="b" x="1491" y="1974" width="133" height="19" rx="3"/><text class="t" x="1557.5" y="1988.5" textLength="122" lengthAdjust="spacingAndGlyphs">סולדיריות משפחתית</text></g>
<g id="t-k3a"><rect class="b" x="1646" y="1914" width="109" height="19" rx="3"/><text class="t" x="1700.5" y="1928.5" textLength="98" lengthAdjust="spacingAndGlyphs">סולידריות מבנית</text></g>
<g id="t-k3b"><rect class="b" x="1646" y="1937" width="152" height="20" rx="3"/><text class="t" x="1722" y="1952" textLength="141" lengthAdjust="spacingAndGlyphs">סולידריות מאוגדת/קשר</text></g>
<g id="t-k3c"><rect class="b" x="1646" y="1962" width="173" height="19" rx="3"/><text class="t" x="1732.5" y="1976.5" textLength="162" lengthAdjust="spacingAndGlyphs">סולדריות רגשית/אפקטיבית</text></g>
<g id="t-k3d"><rect class="b" x="1646" y="1986" width="141" height="19" rx="3"/><text class="t" x="1716.5" y="2000.5" textLength="130" lengthAdjust="spacingAndGlyphs">סולידריות של הסכמה</text></g>
<g id="t-k3e"><rect class="b" x="1646" y="2009" width="150" height="20" rx="3"/><text class="t" x="1721" y="2024" textLength="139" lengthAdjust="spacingAndGlyphs">סולידריות פונקציונאלית</text></g>
<g id="t-k3f"><rect class="b" x="1646" y="2034" width="137" height="19" rx="3"/><text class="t" x="1714.5" y="2048.5" textLength="126" lengthAdjust="spacingAndGlyphs">סולידריות נורמיטיבית</text></g>

<g id="f-megama"><rect class="b" x="1154" y="2153" width="104" height="20" rx="3"/><text class="t" x="1206" y="2168" textLength="93" lengthAdjust="spacingAndGlyphs">מגמת המשפחה</text></g>
<g id="m-1"><rect class="b" x="1281" y="2093" width="155" height="20" rx="3"/><text class="t" x="1358.5" y="2108" textLength="144" lengthAdjust="spacingAndGlyphs">שינויים במבנה המשפחה</text></g>
<g id="m-1a"><rect class="b" x="1458" y="2057" width="192" height="20" rx="3"/><text class="t" x="1554" y="2072" textLength="181" lengthAdjust="spacingAndGlyphs">ורטיקלי - גידול במספר הדורות</text></g>
<g id="m-1b"><rect class="b" x="1458" y="2093" width="204" height="20" rx="3"/><text class="t" x="1560" y="2108" textLength="193" lengthAdjust="spacingAndGlyphs">קושי הנובע ממעברים בחיי הפרט</text></g>
<g id="m-1b1"><rect class="b" x="1685" y="2082" width="99" height="20" rx="3"/><text class="t" x="1734.5" y="2097" textLength="88" lengthAdjust="spacingAndGlyphs">גילאים מרוכזים</text></g>
<g id="m-1b2"><rect class="b" x="1685" y="2106" width="94" height="19" rx="3"/><text class="t" x="1732" y="2120.5" textLength="83" lengthAdjust="spacingAndGlyphs">פערים גילאיים</text></g>
<g id="m-1c"><rect class="b" x="1458" y="2130" width="103" height="19" rx="3"/><text class="t" x="1509.5" y="2144.5" textLength="92" lengthAdjust="spacingAndGlyphs">זוגות ללא ילדים</text></g>
<g id="m-2"><rect class="b" x="1281" y="2177" width="235" height="20" rx="3"/><text class="t" x="1398.5" y="2192" textLength="224" lengthAdjust="spacingAndGlyphs">היבטים לתיאורית התפתחות המשפחה</text></g>
<g id="m-2a"><rect class="b" x="1538" y="2154" width="115" height="19" rx="3"/><text class="t" x="1595.5" y="2168.5" textLength="104" lengthAdjust="spacingAndGlyphs">קשרים בין אישיים</text></g>
<g id="m-2b"><rect class="b" x="1538" y="2177" width="122" height="20" rx="3"/><text class="t" x="1599" y="2192" textLength="111" lengthAdjust="spacingAndGlyphs">היסטוריה משותפת</text></g>
<g id="m-2c"><rect class="b" x="1538" y="2202" width="220" height="20" rx="3"/><text class="t" x="1648" y="2217" textLength="209" lengthAdjust="spacingAndGlyphs">אירועים הגורמים לשינויים במשפחה</text></g>
<g id="m-3"><rect class="b" x="1281" y="2238" width="262" height="19" rx="3"/><text class="t" x="1412" y="2252.5" textLength="251" lengthAdjust="spacingAndGlyphs">שני מאפיינים מרכזיים של משפחה מודרנית</text></g>
<g id="m-3a"><rect class="b" x="1566" y="2226" width="42" height="19" rx="3"/><text class="t" x="1587" y="2240.5" textLength="31" lengthAdjust="spacingAndGlyphs">ילודה</text></g>
<g id="m-3b"><rect class="b" x="1566" y="2249" width="89" height="20" rx="3"/><text class="t" x="1610.5" y="2264" textLength="78" lengthAdjust="spacingAndGlyphs">קשרים דוריים</text></g>

<g id="p-zaks"><rect class="b" x="992" y="197" width="42" height="19" rx="3"/><text class="t" x="1013" y="211.5" textLength="31" lengthAdjust="spacingAndGlyphs">זאקס</text></g>
<g id="p-zaks-1"><rect class="b" x="807" y="197" width="162" height="19" rx="3"/><text class="t" x="888" y="211.5" textLength="151" lengthAdjust="spacingAndGlyphs">הפוקוס על העצמי הפנימי</text></g>
<g id="p-zaks-1a"><rect class="b" x="677" y="173" width="108" height="19" rx="3"/><text class="t" x="731" y="187.5" textLength="97" lengthAdjust="spacingAndGlyphs">התבוננות פנימית</text></g>
<g id="p-zaks-1b"><rect class="b" x="680" y="197" width="105" height="19" rx="3"/><text class="t" x="732.5" y="211.5" textLength="94" lengthAdjust="spacingAndGlyphs">חיפושת משמעות</text></g>
<g id="p-zaks-1c"><rect class="b" x="688" y="220" width="97" height="19" rx="3"/><text class="t" x="736.5" y="234.5" textLength="86" lengthAdjust="spacingAndGlyphs">הגשמה עצמית</text></g>
<g id="p-nogarten"><rect class="b" x="987" y="253" width="47" height="19" rx="3"/><text class="t" x="1010.5" y="267.5" textLength="36" lengthAdjust="spacingAndGlyphs">נוגרטן</text></g>
<g id="p-nogarten-1"><rect class="b" x="666" y="245" width="300" height="19" rx="3"/><text class="t" x="816" y="259.5" textLength="289" lengthAdjust="spacingAndGlyphs">בתקופה זו עושים "ספירת מלאי" - אינטרוספקציה</text><rect class="yl" x="754" y="265" width="122" height="18"/><text class="yt" x="815" y="278.5" textLength="117" lengthAdjust="spacingAndGlyphs">מה אדם השיג ומה לא</text></g>
<g id="p-levinson"><rect class="b" x="915" y="383" width="49" height="19" rx="3"/><text class="t" x="939.5" y="397.5" textLength="38" lengthAdjust="spacingAndGlyphs">לוינסון</text><rect class="yl" x="844" y="403" width="191" height="17"/><text class="yt" x="939.5" y="416" textLength="186" lengthAdjust="spacingAndGlyphs">האדם מבצע הערכה מחודשת לחייו</text></g>
<g id="p-lev-1"><rect class="b" x="696" y="300" width="137" height="19" rx="3"/><text class="t" x="764.5" y="314.5" textLength="126" lengthAdjust="spacingAndGlyphs">בגרות מוקדמת 22-40</text></g>
<g id="p-lev-1a"><rect class="b" x="494" y="299" width="160" height="19" rx="3"/><text class="t" x="574" y="313.5" textLength="149" lengthAdjust="spacingAndGlyphs">מעבר אמצע החיים 40-45</text><rect class="yl" x="472" y="319" width="200" height="18"/><text class="yt" x="572" y="332.5" textLength="195" lengthAdjust="spacingAndGlyphs">הערכה מחודשת לחיים, מודעות לסוף</text></g>
<g id="p-lev-1b"><rect class="b" x="301" y="298" width="161" height="19" rx="3"/><text class="t" x="381.5" y="312.5" textLength="150" lengthAdjust="spacingAndGlyphs">שני משימות התפתחותיות</text></g>
<g id="p-lev-1b1"><rect class="b" x="17" y="286" width="262" height="19" rx="3"/><text class="t" x="148" y="300.5" textLength="251" lengthAdjust="spacingAndGlyphs">ניצול באופן אופטימלי זמן שנותר עד המוות</text></g>
<g id="p-lev-1b2"><rect class="b" x="57" y="309" width="222" height="19" rx="3"/><text class="t" x="168" y="323.5" textLength="211" lengthAdjust="spacingAndGlyphs">הכנה לתקופה חדשה - אמצע החיים</text></g>
<g id="p-lev-2"><rect class="b" x="688" y="409" width="122" height="19" rx="3"/><text class="t" x="749" y="423.5" textLength="111" lengthAdjust="spacingAndGlyphs">בגרות ביניים 45-60</text><rect class="yl" x="664" y="429" width="170" height="17"/><text class="yt" x="749" y="442" textLength="165" lengthAdjust="spacingAndGlyphs">דאגה לדור הבא, תפקידי מנטור</text></g>
<g id="p-lev-2a"><rect class="b" x="375" y="339" width="241" height="20" rx="3"/><text class="t" x="495.5" y="354" textLength="230" lengthAdjust="spacingAndGlyphs">מבנה החיים של הבגרות הצעירה 45-50</text><rect class="yl" x="338" y="359" width="316" height="17"/><text class="yt" x="496" y="372" textLength="311" lengthAdjust="spacingAndGlyphs">האדם מבצע שינויים הנדרשים לעיצוב מחדש - פנימי וחיצוני</text></g>
<g id="p-lev-2b"><rect class="b" x="435" y="380" width="142" height="19" rx="3"/><text class="t" x="506" y="394.5" textLength="131" lengthAdjust="spacingAndGlyphs">מעבר גיל ה50:  50-55</text><rect class="yl" x="358" y="400" width="296" height="17"/><text class="yt" x="506" y="413" textLength="291" lengthAdjust="spacingAndGlyphs">יתכן משבר אצל אנשים שלא ערכו שינויים בזמן המעבר</text></g>
<g id="p-lev-2c"><rect class="b" x="487" y="421" width="43" height="19" rx="3"/><text class="t" x="508.5" y="435.5" textLength="32" lengthAdjust="spacingAndGlyphs">55-60</text><rect class="yl" x="363" y="441" width="291" height="17"/><text class="yt" x="508.5" y="454" textLength="286" lengthAdjust="spacingAndGlyphs">שיא מימוש השינויים שאדם עשה בחייו פנימית וחיצונית</text></g>
<g id="p-lev-2d"><rect class="b" x="445" y="462" width="183" height="20" rx="3"/><text class="t" x="536.5" y="477" textLength="172" lengthAdjust="spacingAndGlyphs">מעבר לבגרות מאוחרת 60-65</text><rect class="yl" x="421" y="482" width="233" height="17"/><text class="yt" x="537.5" y="495" textLength="228" lengthAdjust="spacingAndGlyphs">חרדות הזדקנות מפני אובדנים וירידות פיזיות</text></g>
<g id="p-erikson"><rect class="b" x="977" y="527" width="56" height="19" rx="3"/><text class="t" x="1005" y="541.5" textLength="45" lengthAdjust="spacingAndGlyphs">אריקסון</text></g>
<g id="p-eri-1"><rect class="b" x="737" y="527" width="154" height="20" rx="3"/><text class="t" x="814" y="542" textLength="143" lengthAdjust="spacingAndGlyphs">יצרנות מול קיפאון 25-50</text><rect class="yl" x="674" y="548" width="280" height="17"/><text class="yt" x="814" y="561" textLength="275" lengthAdjust="spacingAndGlyphs">גידול ודאגה לילדים, יעילות ויצרתיות בעבודה ובחיים</text></g>
<g id="p-eri-1a"><rect class="b" x="616" y="515" width="47" height="19" rx="3"/><text class="t" x="639.5" y="529.5" textLength="36" lengthAdjust="spacingAndGlyphs">יצרנות</text></g>
<g id="p-eri-1a1"><rect class="b" x="214" y="503" width="379" height="19" rx="3"/><text class="t" x="403.5" y="517.5" textLength="368" lengthAdjust="spacingAndGlyphs">גידול וחינוך הילדים, יצירתיות בעבודה, אופטימיות ודאגה לזולת</text></g>
<g id="p-eri-1a2"><rect class="b" x="433" y="527" width="160" height="19" rx="3"/><text class="t" x="513" y="541.5" textLength="149" lengthAdjust="spacingAndGlyphs">שאיפה למיצוי הפוטנציאל</text></g>
<g id="p-eri-1b"><rect class="b" x="616" y="551" width="47" height="19" rx="3"/><text class="t" x="639.5" y="565.5" textLength="36" lengthAdjust="spacingAndGlyphs">קיפאון</text></g>
<g id="p-eri-1b1"><rect class="b" x="246" y="551" width="347" height="19" rx="3"/><text class="t" x="419.5" y="565.5" textLength="336" lengthAdjust="spacingAndGlyphs">עיסוק יתר בעצמי, פאסימיות, תחושת מלכודת ללא מילוט</text></g>
<g id="p-mcadams"><rect class="b" x="832" y="647" width="71" height="20" rx="3"/><text class="t" x="867.5" y="662" textLength="60" lengthAdjust="spacingAndGlyphs">מקאדאמס</text><rect class="yl" x="702" y="667" width="333" height="17"/><text class="yt" x="868.5" y="680" textLength="328" lengthAdjust="spacingAndGlyphs">מודל יצרנות של 7 מרכיבים הקשורים לדאגה לאחר ולדור הבא</text></g>
<g id="p-mc-1"><rect class="b" x="623" y="575" width="68" height="19" rx="3"/><text class="t" x="657" y="589.5" textLength="57" lengthAdjust="spacingAndGlyphs">רצון פנימי</text></g>
<g id="p-mc-2"><rect class="b" x="591" y="599" width="100" height="19" rx="3"/><text class="t" x="641" y="613.5" textLength="89" lengthAdjust="spacingAndGlyphs">דרישות החברה</text></g>
<g id="p-mc-3"><rect class="b" x="587" y="623" width="104" height="19" rx="3"/><text class="t" x="639" y="637.5" textLength="93" lengthAdjust="spacingAndGlyphs">דאגה לדור הבא</text></g>
<g id="p-mc-4"><rect class="b" x="473" y="647" width="218" height="20" rx="3"/><text class="t" x="582" y="662" textLength="207" lengthAdjust="spacingAndGlyphs">אמונה בסוג האדם ובכדאיות לקיומו</text></g>
<g id="p-mc-5"><rect class="b" x="482" y="671" width="209" height="19" rx="3"/><text class="t" x="586.5" y="685.5" textLength="198" lengthAdjust="spacingAndGlyphs">מחויבות לקיחת אחריות על האחר</text></g>
<g id="p-mc-6"><rect class="b" x="482" y="694" width="209" height="20" rx="3"/><text class="t" x="586.5" y="709" textLength="198" lengthAdjust="spacingAndGlyphs">פעולות הקשורות לדאגה ומחויבות</text></g>
<g id="p-mc-7"><rect class="b" x="482" y="718" width="209" height="20" rx="3"/><text class="t" x="586.5" y="733" textLength="198" lengthAdjust="spacingAndGlyphs">משמעות הפעולות היצרניות לאדם</text></g>

<g id="toggles">
<use href="#tg" x="1145" y="152"/><use href="#tg" x="1205" y="188"/><use href="#tg" x="1271" y="377"/><use href="#tg" x="1402" y="224.5"/><use href="#tg" x="1406" y="313"/><use href="#tg" x="1454" y="457.5"/>
<use href="#tg" x="1303" y="1297"/><use href="#tg" x="1503" y="601.5"/><use href="#tg" x="1481" y="709.5"/><use href="#tg" x="1430" y="805.5"/><use href="#tg" x="1435" y="913.5"/><use href="#tg" x="1490" y="1146.5"/>
<use href="#tg" x="1607" y="1045.5"/><use href="#tg" x="1613" y="1182"/><use href="#tg" x="1609" y="1283"/><use href="#tg" x="1427" y="1355.5"/><use href="#tg" x="1529" y="1331.5"/><use href="#tg" x="1540" y="1355.5"/>
<use href="#tg" x="1575" y="1379"/><use href="#tg" x="1533" y="1427"/><use href="#tg" x="1532" y="1543.5"/><use href="#tg" x="1714" y="1599"/><use href="#tg" x="1517" y="1719.5"/><use href="#tg" x="1476" y="1923"/>
<use href="#tg" x="1613" y="1863"/><use href="#tg" x="1631" y="1983.5"/><use href="#tg" x="1265" y="2163"/><use href="#tg" x="1442" y="2103"/><use href="#tg" x="1669" y="2103"/><use href="#tg" x="1523" y="2187"/><use href="#tg" x="1551" y="2247.5"/>
<use href="#tg" x="1951" y="153"/>
<use href="#tg" x="1044.5" y="152"/><use href="#tg" x="984" y="206.5"/><use href="#tg" x="800" y="206.5"/><use href="#tg" x="980" y="262.5"/><use href="#tg" x="907" y="392.5"/><use href="#tg" x="689" y="309.5"/>
<use href="#tg" x="486" y="308.5"/><use href="#tg" x="294" y="307.5"/><use href="#tg" x="680" y="418.5"/><use href="#tg" x="969" y="536.5"/><use href="#tg" x="730" y="537"/><use href="#tg" x="609" y="524.5"/><use href="#tg" x="609" y="560.5"/><use href="#tg" x="824" y="657"/>
</g>
</svg>
